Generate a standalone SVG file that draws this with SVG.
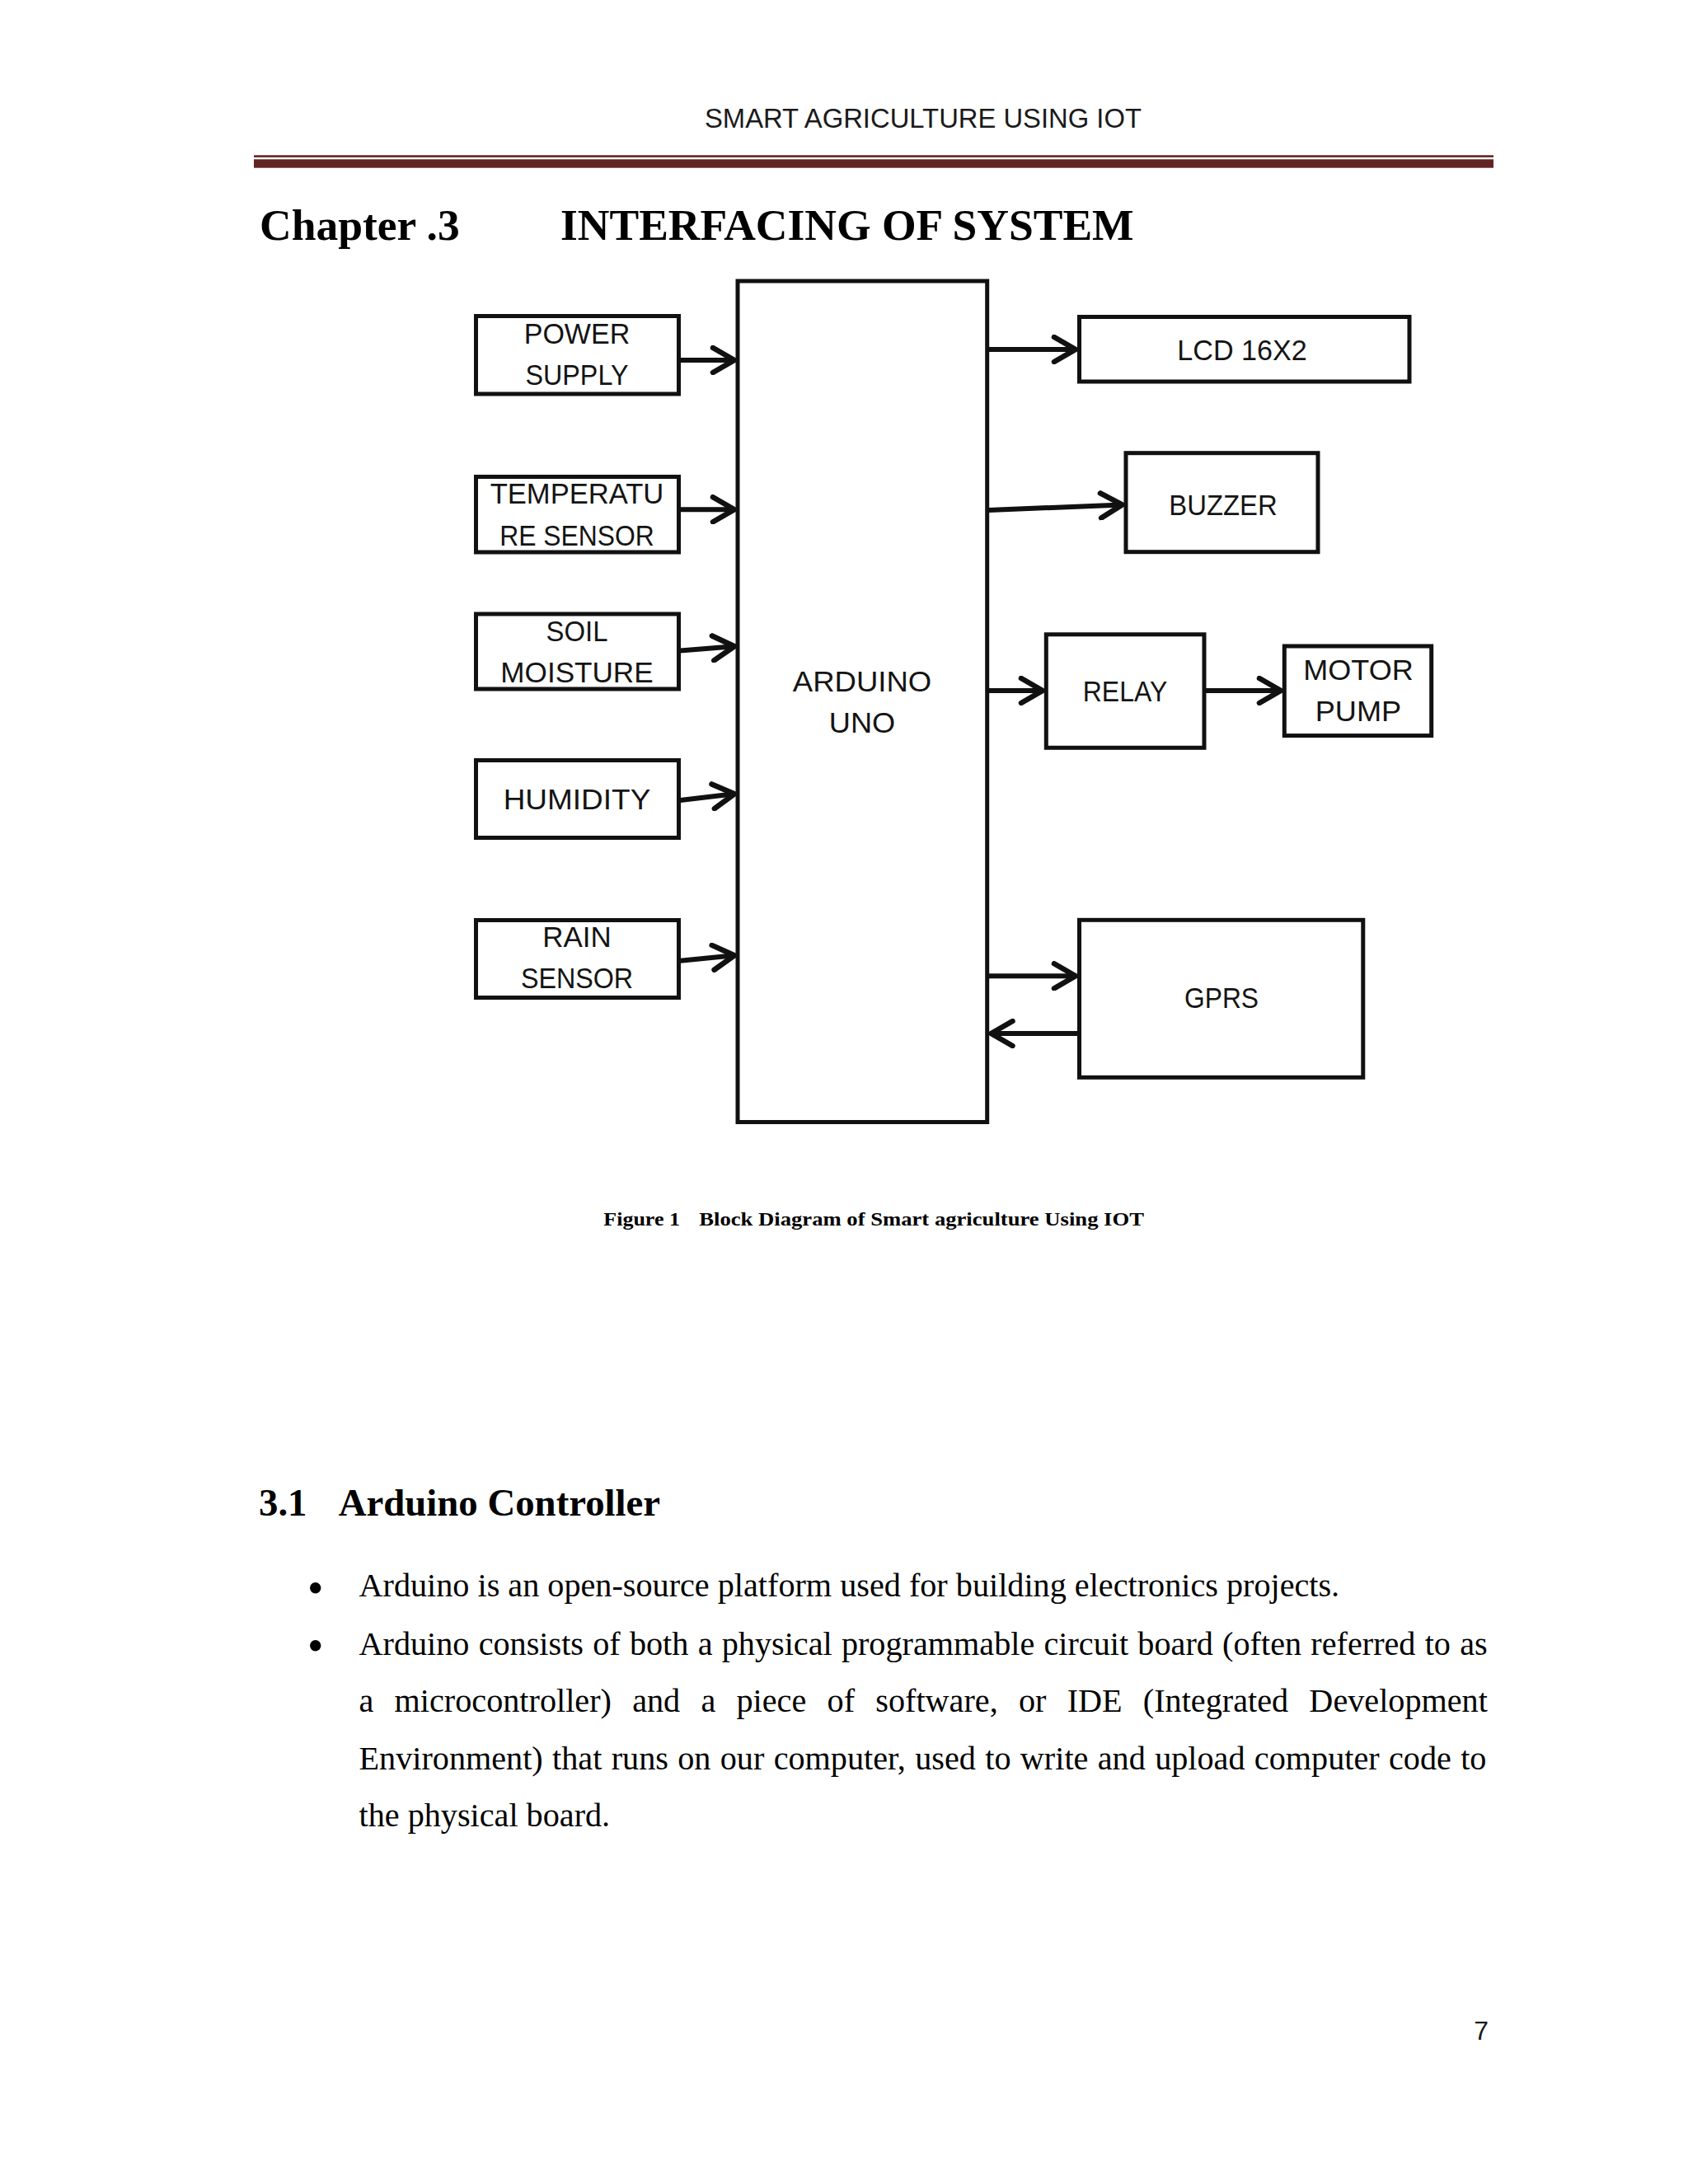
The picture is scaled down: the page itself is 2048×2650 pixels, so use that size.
<svg xmlns="http://www.w3.org/2000/svg" width="2048" height="2650" viewBox="0 0 2048 2650">
<defs>
<style>
.box{fill:#ffffff;stroke:#111111;stroke-width:5}
.lbl{font-family:"Liberation Sans",Arial,sans-serif;font-size:35px;fill:#141414;text-anchor:middle}
.con{stroke:#111111;stroke-width:6;fill:none;stroke-linecap:butt}
.body{font-family:"Liberation Serif","Times New Roman",serif;font-size:40.2px;fill:#000000}
.bold{font-family:"Liberation Serif","Times New Roman",serif;font-weight:bold;fill:#000000}
</style>
<marker id="ah" viewBox="0 0 34 36" refX="30" refY="18" markerWidth="34" markerHeight="36" markerUnits="userSpaceOnUse" orient="auto">
<path d="M4,3 L30,18 L4,33" fill="none" stroke="#111111" stroke-width="6.5" stroke-linecap="round" stroke-linejoin="round"/>
</marker>
</defs>
<rect x="0" y="0" width="2048" height="2650" fill="#ffffff"/>

<g id="page-header">
<text x="855" y="155" font-family="'Liberation Sans',Arial,sans-serif" font-size="32.5" fill="#1a1a1a" textLength="530" lengthAdjust="spacingAndGlyphs">SMART AGRICULTURE USING IOT</text>
<rect x="308" y="188.3" width="1504" height="2.6" fill="#622423"/>
<rect x="308" y="193.3" width="1504" height="10.4" fill="#622423"/>
</g>

<g id="chapter-title">
<text class="bold" x="315" y="290.7" font-size="53.5">Chapter .3</text>
<text class="bold" x="680" y="290.7" font-size="53.5">INTERFACING OF SYSTEM</text>
</g>

<g id="connectors">
<line class="con" x1="825.4" y1="437" x2="891" y2="437" marker-end="url(#ah)"/>
<line class="con" x1="825.4" y1="618.2" x2="891" y2="618.2" marker-end="url(#ah)"/>
<line class="con" x1="825.4" y1="789.6" x2="891" y2="784.3" marker-end="url(#ah)"/>
<line class="con" x1="825.4" y1="970.9" x2="891" y2="963.3" marker-end="url(#ah)"/>
<line class="con" x1="825.4" y1="1165.7" x2="891" y2="1159.3" marker-end="url(#ah)"/>
<line class="con" x1="1199.7" y1="424" x2="1305" y2="424" marker-end="url(#ah)"/>
<line class="con" x1="1199.7" y1="619" x2="1361.5" y2="612.4" marker-end="url(#ah)"/>
<line class="con" x1="1199.7" y1="838" x2="1265" y2="838" marker-end="url(#ah)"/>
<line class="con" x1="1463" y1="838" x2="1554" y2="838" marker-end="url(#ah)"/>
<line class="con" x1="1199.7" y1="1184.3" x2="1305" y2="1184.3" marker-end="url(#ah)"/>
<line class="con" x1="1307.5" y1="1254" x2="1202.5" y2="1254" marker-end="url(#ah)"/>
</g>

<g id="node-power-supply">
<rect class="box" x="577.5" y="383.5" width="246" height="94.5"/>
<text class="lbl" x="700" y="417" textLength="128.6" lengthAdjust="spacingAndGlyphs">POWER</text>
<text class="lbl" x="700" y="467" textLength="125" lengthAdjust="spacingAndGlyphs">SUPPLY</text>
</g>
<g id="node-temperature-sensor">
<rect class="box" x="577.5" y="578.5" width="246" height="91.5"/>
<text class="lbl" x="700" y="611" textLength="210.7" lengthAdjust="spacingAndGlyphs">TEMPERATU</text>
<text class="lbl" x="700" y="661.5" textLength="187.5" lengthAdjust="spacingAndGlyphs">RE SENSOR</text>
</g>
<g id="node-soil-moisture">
<rect class="box" x="577.5" y="745" width="246" height="91"/>
<text class="lbl" x="700" y="777.6" textLength="75" lengthAdjust="spacingAndGlyphs">SOIL</text>
<text class="lbl" x="700" y="828" textLength="185.3" lengthAdjust="spacingAndGlyphs">MOISTURE</text>
</g>
<g id="node-humidity">
<rect class="box" x="577.5" y="922.5" width="246" height="94"/>
<text class="lbl" x="700" y="982" textLength="178.6" lengthAdjust="spacingAndGlyphs">HUMIDITY</text>
</g>
<g id="node-rain-sensor">
<rect class="box" x="577.5" y="1116.5" width="246" height="94"/>
<text class="lbl" x="700" y="1149" textLength="83.5" lengthAdjust="spacingAndGlyphs">RAIN</text>
<text class="lbl" x="700" y="1199.3" textLength="136.2" lengthAdjust="spacingAndGlyphs">SENSOR</text>
</g>
<g id="node-arduino-uno">
<rect class="box" x="895" y="341" width="302.7" height="1020.5"/>
<text class="lbl" x="1046" y="839" textLength="168.3" lengthAdjust="spacingAndGlyphs">ARDUINO</text>
<text class="lbl" x="1046" y="889" textLength="80.4" lengthAdjust="spacingAndGlyphs">UNO</text>
</g>
<g id="node-lcd">
<rect class="box" x="1309.5" y="384.5" width="400.5" height="78.5"/>
<text class="lbl" x="1507" y="437" textLength="157.5" lengthAdjust="spacingAndGlyphs">LCD 16X2</text>
</g>
<g id="node-buzzer">
<rect class="box" x="1366" y="549.7" width="233" height="120"/>
<text class="lbl" x="1484" y="625" textLength="131.4" lengthAdjust="spacingAndGlyphs">BUZZER</text>
</g>
<g id="node-relay">
<rect class="box" x="1269.3" y="769.8" width="191.7" height="137.5"/>
<text class="lbl" x="1365" y="851" textLength="102.4" lengthAdjust="spacingAndGlyphs">RELAY</text>
</g>
<g id="node-motor-pump">
<rect class="box" x="1558.3" y="784" width="178.4" height="108.6"/>
<text class="lbl" x="1648" y="825.4" textLength="133.5" lengthAdjust="spacingAndGlyphs">MOTOR</text>
<text class="lbl" x="1648" y="875" textLength="104.5" lengthAdjust="spacingAndGlyphs">PUMP</text>
</g>
<g id="node-gprs">
<rect class="box" x="1309.5" y="1116.3" width="344.3" height="191"/>
<text class="lbl" x="1482" y="1222.7" textLength="90" lengthAdjust="spacingAndGlyphs">GPRS</text>
</g>

<g id="caption">
<text class="bold" x="732.3" y="1487.3" font-size="23" textLength="92.7" lengthAdjust="spacingAndGlyphs">Figure 1</text>
<text class="bold" x="848.3" y="1487.3" font-size="23" textLength="539.7" lengthAdjust="spacingAndGlyphs">Block Diagram of Smart agriculture Using IOT</text>
</g>

<g id="section">
<text class="bold" x="314" y="1839.3" font-size="46.8">3.1</text>
<text class="bold" x="410.7" y="1839.3" font-size="46.8">Arduino Controller</text>
<circle cx="382.7" cy="1926.7" r="6.7" fill="#000000"/>
<circle cx="382.7" cy="1996.7" r="6.7" fill="#000000"/>
<text class="body" x="435.5" y="1937">Arduino is an open-source platform used for building electronics projects.</text>
<text class="body" x="435.5" y="2007.5" word-spacing="1.2">Arduino consists of both a physical programmable circuit board (often referred to as</text>
<text class="body" x="435.5" y="2077" word-spacing="15.2">a microcontroller) and a piece of software, or IDE (Integrated Development</text>
<text class="body" x="435.5" y="2146.5" word-spacing="1.3">Environment) that runs on our computer, used to write and upload computer code to</text>
<text class="body" x="435.5" y="2216">the physical board.</text>
</g>

<g id="page-number">
<text x="1806" y="2475" font-family="'Liberation Sans',Arial,sans-serif" font-size="32" fill="#1a1a1a" text-anchor="end">7</text>
</g>
</svg>
